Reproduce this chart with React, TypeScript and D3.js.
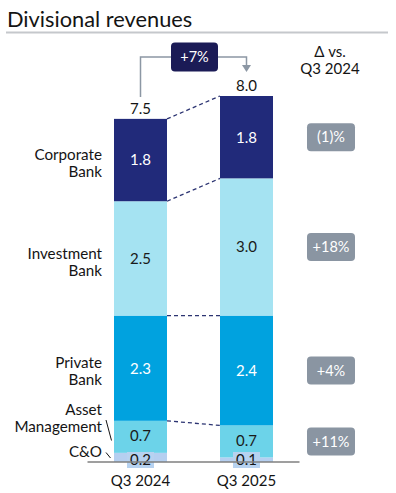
import * as d3 from "d3";

const W = 396;
const H = 493;

// data
const periods = ["Q3 2024", "Q3 2025"];
const divisions = ["C&O", "Asset Management", "Private Bank", "Investment Bank", "Corporate Bank"];
const q3_2024 = [0.2, 0.7, 2.3, 2.5, 1.8];
const q3_2025 = [0.1, 0.7, 2.4, 3.0, 1.8];
const totals = ["7.5", "8.0"];
const deltas = ["+11%", "+4%", "+18%", "(1)%"];
const growthLabel = "+7%";

const colors = ["#b5cff0", "#6cd3e9", "#00a2df", "#a5e3f2", "#212a7a"];
const textColors = ["#1a1a1a", "#1a1a1a", "#ffffff", "#1a1a1a", "#ffffff"];

const FONT = "Lato, 'Noto Sans', sans-serif";
const TXT = "#141414";

export default function App() {
  const x = d3.scaleBand().domain(periods).range([87.5, 299.5]).paddingInner(0.5).paddingOuter(0.25);
  const y = d3.scaleLinear().domain([0, 8]).range([462, 96]);

  const series = [q3_2024, q3_2025];
  const stacks = series.map((vals) => {
    let acc = 0;
    return vals.map((v) => {
      const s = { y0: acc, y1: acc + v, v };
      acc += v;
      return s;
    });
  });

  const bw = x.bandwidth();
  const cx = (p: string) => (x(p) as number) + bw / 2;
  const x0 = x(periods[0]) as number;
  const x1 = x(periods[1]) as number;
  const top0 = y(d3.sum(q3_2024));
  const top1 = y(d3.sum(q3_2025));

  // dashed connector boundaries: top, CB/IB, IB/PB, PB/AM
  const links = [5, 4, 3, 2].map((k) => [
    y(d3.sum(q3_2024.slice(0, k))),
    y(d3.sum(q3_2025.slice(0, k))),
  ]);

  const seg0 = stacks[0];
  const mid0 = (i: number) => (y(seg0[i].y0) + y(seg0[i].y1)) / 2;
  const seg1 = stacks[1];
  const mid1 = (i: number) => (y(seg1[i].y0) + y(seg1[i].y1)) / 2;

  const labelX = 102;
  const c0 = cx(periods[0]);
  const c1 = cx(periods[1]);
  const boxW = 47;
  const boxH = 29;
  const boxCx = (c0 + c1) / 2 + 1;
  const lineY = 57;

  return (
    <svg width={W} height={H} style={{ position: "absolute", left: 0, top: 0 }} fontFamily={FONT}>
      <rect width={W} height={H} fill="#fff" />
      <text x={7} y={27} fontSize={21.8} fill={TXT}>Divisional revenues</text>
      <line x1={6} x2={388} y1={32.5} y2={32.5} stroke="#c5c8cc" strokeWidth={2} />

      <text x={330} y={57} fontSize={15} fill={TXT} textAnchor="middle">Δ vs.</text>
      <text x={330} y={74} fontSize={15} fill={TXT} textAnchor="middle">Q3 2024</text>

      {/* growth connector */}
      <path
        d={`M${c0},${top0 - 22}V${lineY}H${boxCx - boxW / 2} M${boxCx + boxW / 2},${lineY}H${c1}V${top1 - 30}`}
        fill="none"
        stroke="#8c97a4"
        strokeWidth={1.5}
      />
      <path d={`M${c1 - 4.5},${top1 - 31}L${c1 + 4.5},${top1 - 31}L${c1},${top1 - 24}Z`} fill="#8c97a4" />
      <rect x={boxCx - boxW / 2} y={lineY - boxH / 2} width={boxW} height={boxH} rx={4} fill="#1b1b56" />
      <text x={boxCx} y={lineY} dy="0.36em" fontSize={14.5} fill="#fff" textAnchor="middle">{growthLabel}</text>

      {/* dashed links */}
      {links.map(([a, b], i) => (
        <line key={i} x1={x0 + bw} x2={x1} y1={a} y2={b} stroke="#2c3472" strokeWidth={1.3} strokeDasharray="4,3" />
      ))}

      {/* bars */}
      {stacks.map((segs, j) => (
        <g key={periods[j]}>
          {segs.map((s, i) => (
            <rect key={i} x={x(periods[j])} y={y(s.y1)} width={bw} height={y(s.y0) - y(s.y1)} fill={colors[i]} />
          ))}
          {segs.map((s, i) =>
            i === 0 ? (
              <g key={"l" + i}>
                <rect x={cx(periods[j]) - 13.5} y={452} width={27} height={16} fill="#b7d2f0" />
                <text x={cx(periods[j])} y={460} dy="0.36em" fontSize={15} fill={TXT} textAnchor="middle">
                  {s.v.toFixed(1)}
                </text>
              </g>
            ) : (
              <text
                key={"l" + i}
                x={cx(periods[j])}
                y={(y(s.y0) + y(s.y1)) / 2}
                dy={i === 1 ? "0.3em" : "0.36em"}
                fontSize={15}
                fill={textColors[i]}
                textAnchor="middle"
              >
                {s.v.toFixed(1)}
              </text>
            )
          )}
          <text x={cx(periods[j])} y={(j === 0 ? top0 : top1) - 5} fontSize={15} fill={TXT} textAnchor="middle">
            {totals[j]}
          </text>
          <text x={cx(periods[j])} y={486} fontSize={15} fill={TXT} textAnchor="middle">
            {periods[j]}
          </text>
        </g>
      ))}

      {/* baseline */}
      <line x1={87.5} x2={299.5} y1={y(0)} y2={y(0)} stroke="#7f7f7f" strokeWidth={1.5} />

      {/* division labels */}
      <g fontSize={15.2} fill={TXT} textAnchor="end">
        <text x={labelX} y={mid0(4)}>Corporate</text>
        <text x={labelX} y={mid0(4) + 17}>Bank</text>
        <text x={labelX} y={mid0(3) + 1}>Investment</text>
        <text x={labelX} y={mid0(3) + 18}>Bank</text>
        <text x={labelX} y={mid0(2)}>Private</text>
        <text x={labelX} y={mid0(2) + 17}>Bank</text>
        <text x={labelX} y={415}>Asset</text>
        <text x={labelX} y={432}>Management</text>
        <text x={labelX} y={457}>C&amp;O</text>
      </g>
      <line x1={106} y1={420} x2={111.5} y2={440.5} stroke={TXT} strokeWidth={1} />
      <line x1={106} y1={452.5} x2={110.5} y2={458} stroke={TXT} strokeWidth={1} />

      {/* delta badges */}
      {deltas.map((d, i) => (
        <g key={d}>
          <rect x={307} y={mid1(i + 1) - 14} width={48} height={28} rx={4} fill="#8a95a2" />
          <text x={331} y={mid1(i + 1)} dy="0.36em" fontSize={14.5} fill="#fff" textAnchor="middle">
            {d}
          </text>
        </g>
      ))}
    </svg>
  );
}
